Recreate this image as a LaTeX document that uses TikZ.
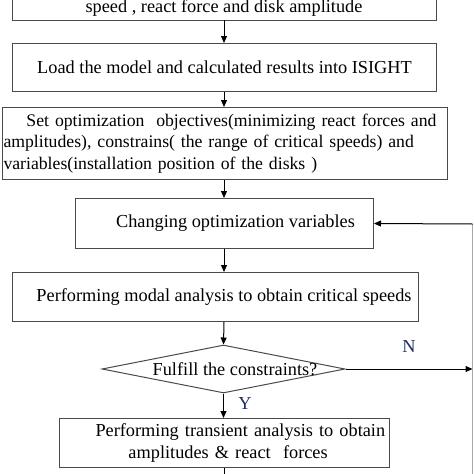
\documentclass[tikz,border=0pt]{standalone}
\usepackage{fontspec}
\setmainfont{Liberation Serif}
\usetikzlibrary{arrows.meta,shapes.geometric}
\definecolor{boxline}{HTML}{4A4A4A}
\definecolor{lbl}{HTML}{1F2D5C}
\definecolor{edgeline}{HTML}{A8A8A8}
\begin{document}
\begin{tikzpicture}[x=1pt,y=-1pt,
  every node/.style={font=\fontsize{18.3}{21.5}\selectfont},
  procbox/.style={draw=boxline, line width=1pt, rectangle, inner sep=0pt, anchor=north west},
  flow/.style={draw=black, line width=1pt, -{Triangle[length=7pt,width=6pt]}},
  yn/.style={text=lbl, inner sep=0pt}
]
\useasboundingbox (0,0) rectangle (474,474);
\clip (0,0) rectangle (474,474);
% box 1 (top, cut off)
\node[procbox, minimum width=424pt, minimum height=60pt] (b1) at (12,-40) {};
\node[inner sep=0pt] (t1) at (224,8.5) {speed , react force and disk amplitude};
% box 2
\node[procbox, minimum width=424pt, minimum height=48pt] (b2) at (12,43) {Load the model and calculated results into ISIGHT};
% box 3
\node[procbox, minimum width=445pt, minimum height=72pt, text width=445pt, align=left,
      font=\fontsize{17.7}{21.3}\selectfont] (b3) at (2,107)
  {\hspace*{24pt}\rlap{Set optimization\ \ objectives(minimizing react forces and}\\
   \hspace*{1pt}\rlap{amplitudes), constrains( the range of critical speeds) and}\\
   \hspace*{1pt}\rlap{variables(installation position of the disks )}};
% box 4
\node[procbox, minimum width=298pt, minimum height=50pt] (b4) at (75,198) {\hspace*{22pt}Changing optimization variables};
% box 5
\node[procbox, minimum width=406pt, minimum height=49pt] (b5) at (12,272) {\hspace*{17pt}Performing modal analysis to obtain critical speeds};
% diamond
\node[diamond, draw=boxline, line width=1pt, minimum width=243pt, minimum height=48pt, inner sep=0pt] (d) at (223.5,369) {};
\node[inner sep=0pt] (dt) at (235,369) {Fulfill the constraints?};
% box 6
\node[procbox, minimum width=330pt, minimum height=49pt, text width=330pt, align=left] (b6) at (59,418)
  {\hspace*{36pt}Performing transient analysis to obtain\\
   \hspace*{69pt}amplitudes \&\ react\ \ forces};
% labels
\node[yn] (N) at (409,347) {N};
\node[yn] (Y) at (245,404) {Y};
% loop coordinates
\coordinate (r1) at (472.5,369);
\coordinate (r2) at (472.5,224);
\coordinate (r3) at (472.5,480);
\coordinate (bot) at (224,480);
% connectors
\draw[flow] (224,20) -- (b2.north -| 224,0);
\draw[flow] (b2.south -| 224,0) -- (b3.north -| 224,0);
\draw[flow] (b3.south -| 224,0) -- (b4.north -| 224,0);
\draw[flow] (b4.south -| 224,0) -- (b5.north -| 224,0);
\draw[flow] (b5.south -| 224,0) -- (d.north);
\draw[flow] (d.south) -- (b6.north -| d.south);
\draw[flow] (d.east) -- (r1);
\draw[draw=edgeline, line width=1pt] (r2) -- (r3);
\draw[flow] (r2) -- (b4.east);
\draw[draw=black, line width=1pt] (b6.south -| 224,0) -- (bot);
\end{tikzpicture}
\end{document}
